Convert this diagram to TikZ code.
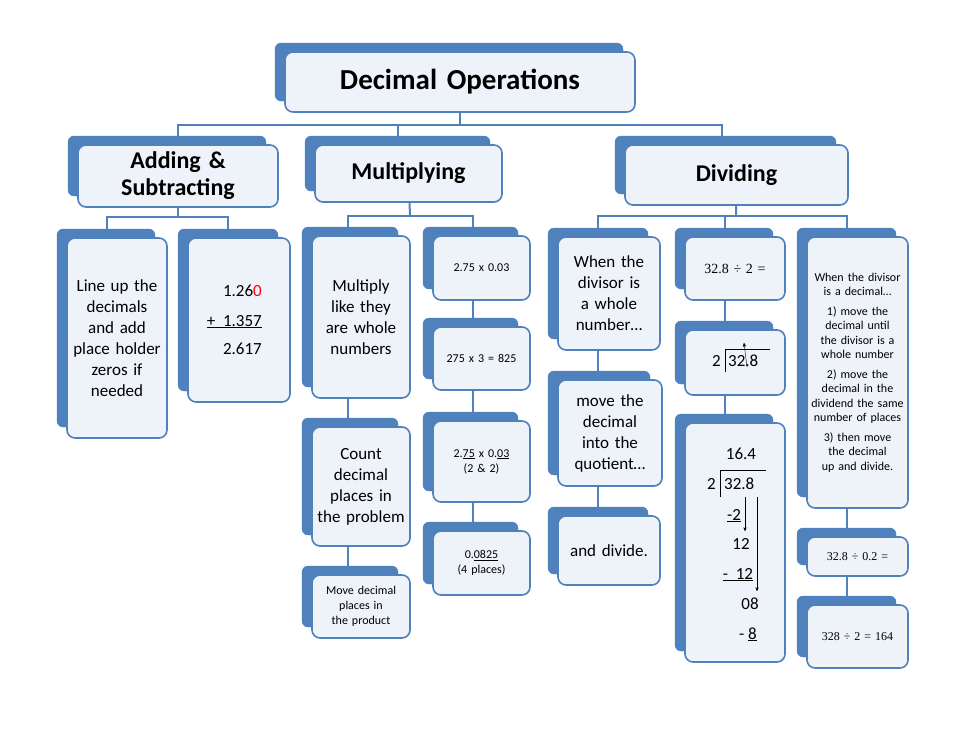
\documentclass[tikz,border=0pt]{standalone}
\usepackage{fontspec}
\setmainfont{Carlito}
\newfontfamily\serifnum{Liberation Serif}
\usetikzlibrary{arrows}
\definecolor{cardblue}{RGB}{79,129,189}
\definecolor{cardfill}{RGB}{238,242,249}
\tikzset{
  backbox/.style={rectangle, rounded corners=6pt, fill=cardblue, draw=cardblue},
  frontbox/.style={rectangle, rounded corners=8pt, fill=cardfill, draw=cardblue, line width=1.6pt,
    align=center, text=black, inner sep=2pt},
  link/.style={draw=cardblue, line width=2pt},
  big/.style={font=\fontsize{17}{21}\selectfont},
  small/.style={font=\fontsize{12}{15}\selectfont},
  sum/.style={font=\fontsize{17}{22}\selectfont, inner sep=0pt, anchor=base},
  arrow/.style={->, >=stealth', thin}
}
% card: name, x1, y1, x2, y2, style, text
\newcommand\card[7]{
  \node[backbox, minimum width={(#4)-(#2)-2}, minimum height={(#5)-(#3)-2}]
    (#1-b) at ({(#2+#4)/2-11},{(#3+#5)/2-10}) {};
  \node[frontbox, #6, minimum width={(#4)-(#2)}, minimum height={(#5)-(#3)}, text width={(#4)-(#2)-8}]
    (#1) at ({(#2+#4)/2},{(#3+#5)/2}) {#7};
}
\begin{document}
\begin{tikzpicture}[x=1pt, y=-1pt]
    \useasboundingbox (0,0) rectangle (964,732);

    %Top level
    \card{ops}{285}{52}{635}{112}{font=\fontsize{29}{32}\bfseries}{Decimal Operations}
    \card{add}{78}{145}{278}{207}{font=\fontsize{24}{27}\bfseries}{Adding \&\\Subtracting}
    \card{mult}{315}{145}{502}{202}{font=\fontsize{24}{27}\bfseries}{Multiplying}
    \card{div}{625}{145}{848}{205}{font=\fontsize{24}{27}\bfseries}{Dividing}

    %Adding column
    \card{lineup}{67}{238}{167}{438}{big}{Line up the decimals and add place holder zeros if needed}
    \card{sum}{188}{238}{290}{402}{big}{}

    %Multiplying column
    \card{like}{312}{236}{410}{398}{big}{Multiply like they are whole numbers}
    \card{count}{312}{427}{410}{546}{big}{Count decimal places in the problem}
    \card{move}{312}{575}{410}{638}{small}{Move decimal places in the product}
    \card{exA}{433}{236}{530}{300}{small}{2.75 x 0.03}
    \card{exB}{433}{327}{530}{390}{small}{275 x 3 = 825}
    \card{exC}{433}{421}{530}{502}{small}{2.\underline{75} x 0.\underline{03}\\(2 \& 2)}
    \card{exD}{433}{531}{530}{595}{small}{0.\underline{0825}\\(4 places)}

    %Dividing columns
    \card{whole}{558}{237}{660}{350}{big}{When the divisor is a whole number\dots}
    \card{quot}{558}{380}{662}{486}{big}{move the decimal into the quotient\dots}
    \card{divide}{558}{516}{660}{585}{big}{and divide.}
    \card{qA}{685}{237}{785}{300}{font=\serifnum\fontsize{14}{16}\selectfont}{32.8 ÷ 2 =}
    \card{qB}{685}{330}{785}{395}{big}{}
    \card{qC}{685}{423}{785}{662}{big}{}
    \card{rule}{807}{237}{908}{508}{font=\fontsize{12}{14.5}\selectfont}{When the divisor is a decimal\dots\\[5pt]1) move the decimal until the divisor is a whole number\\[5pt]2) move the decimal in the dividend the same number of places\\[5pt]3) then move the decimal up and divide.}
    \card{rA}{807}{537}{908}{576}{font=\serifnum\fontsize{12}{14}\selectfont}{32.8 ÷ 0.2 =}
    \card{rB}{807}{605}{908}{668}{font=\serifnum\fontsize{12}{14}\selectfont}{328 ÷ 2 = 164}

    %Addition
    \node[sum, anchor=base east] (s1) at (262,296) {1.26\textcolor{red}{0}};
    \node[sum, anchor=base east] (s2) at (262,326) {\underline{+\ \ 1.357}};
    \node[sum, anchor=base east] (s3) at (262,354) {2.617};

    %Short division
    \node[sum, anchor=base east] (d1) at (721,366) {2};
    \node[sum, anchor=base west] (d2) at (728,366) {32.8};
    \draw[thin] (725,372) -- (725,349) -- (770,349);
    \draw[arrow] (747,367) -- (744,343);

    %Long division
    \node[sum] (l1) at (741,459) {16.4};
    \node[sum, anchor=base east] (l2) at (716,489) {2};
    \node[sum, anchor=base west] (l3) at (724,489) {32.8};
    \draw[thin] (720,497) -- (720,470) -- (766,470);
    \node[sum] (l4) at (734,520) {\underline{-2}};
    \node[sum] (l5) at (741,549) {12};
    \node[sum] (l6) at (738,579) {\underline{-\ \ 12}};
    \node[sum] (l7) at (750,609) {08};
    \node[sum] (l8) at (748,639) {-\ \underline{8}};
    \draw[arrow] (745,497) -- (745,531);
    \draw[arrow] (757,497) -- (757,591);

    %Connectors
    \draw[link] (ops) -- (460,125);
    \draw[link] (add-b.north -| add) |- (460,125) -| (div-b.north -| 722,0);
    \draw[link] (398,125) -- (mult-b.north -| 398,0);
    \draw[link] (add) -- (178,217);
    \draw[link] (lineup-b.north -| 107,0) |- (178,217) -| (sum-b.north -| 228,0);
    \draw[link] (mult) -- (410,216);
    \draw[link] (like-b.north -| 348,0) |- (410,216) -| (exA-b.north -| 473,0);
    \draw[link] (div) -- (736,216);
    \draw[link] (whole-b.north -| 598,0) |- (847,216) -- (rule-b.north -| 847,0);
    \draw[link] (725,216) -- (qA-b.north -| 725,0);
    \draw[link] (like.south -| 348,0) -- (count-b.north -| 348,0);
    \draw[link] (count.south -| 348,0) -- (move-b.north -| 348,0);
    \draw[link] (exA.south -| 473,0) -- (exB-b.north -| 473,0);
    \draw[link] (exB.south -| 473,0) -- (exC-b.north -| 473,0);
    \draw[link] (exC.south -| 473,0) -- (exD-b.north -| 473,0);
    \draw[link] (whole.south -| 598,0) -- (quot-b.north -| 598,0);
    \draw[link] (quot.south -| 598,0) -- (divide-b.north -| 598,0);
    \draw[link] (qA.south -| 725,0) -- (qB-b.north -| 725,0);
    \draw[link] (qB.south -| 725,0) -- (qC-b.north -| 725,0);
    \draw[link] (rule.south -| 847,0) -- (rA-b.north -| 847,0);
    \draw[link] (rA.south -| 847,0) -- (rB-b.north -| 847,0);
\end{tikzpicture}
\end{document}
